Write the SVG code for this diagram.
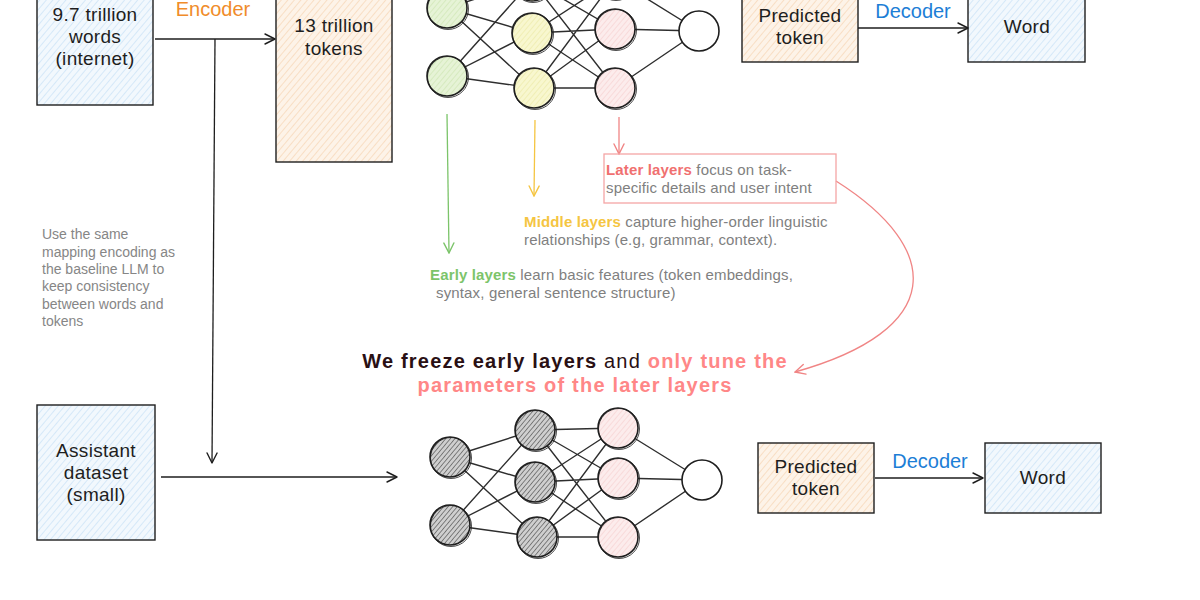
<svg xmlns="http://www.w3.org/2000/svg" width="1200" height="600" viewBox="0 0 1200 600">
<defs>
  <pattern id="hBlue" width="5" height="5" patternUnits="userSpaceOnUse" patternTransform="rotate(40)">
    <rect width="5" height="5" fill="#f2f8fd"/><line x1="0" y1="0" x2="0" y2="5" stroke="#b9d9f3" stroke-width="1"/>
  </pattern>
  <pattern id="hOrange" width="5" height="5" patternUnits="userSpaceOnUse" patternTransform="rotate(40)">
    <rect width="5" height="5" fill="#fdf3e8"/><line x1="0" y1="0" x2="0" y2="5" stroke="#f4c9a0" stroke-width="1"/>
  </pattern>
  <pattern id="hGreen" width="4" height="4" patternUnits="userSpaceOnUse" patternTransform="rotate(40)">
    <rect width="4" height="4" fill="#e6f3d6"/><line x1="0" y1="0" x2="0" y2="4" stroke="#c6e2a8" stroke-width="1"/>
  </pattern>
  <pattern id="hYellow" width="4" height="4" patternUnits="userSpaceOnUse" patternTransform="rotate(40)">
    <rect width="4" height="4" fill="#f8f7cf"/><line x1="0" y1="0" x2="0" y2="4" stroke="#e8e59c" stroke-width="1"/>
  </pattern>
  <pattern id="hPink" width="4" height="4" patternUnits="userSpaceOnUse" patternTransform="rotate(40)">
    <rect width="4" height="4" fill="#fcecec"/><line x1="0" y1="0" x2="0" y2="4" stroke="#f5c8c8" stroke-width="1"/>
  </pattern>
  <pattern id="hDark" width="3.5" height="3.5" patternUnits="userSpaceOnUse" patternTransform="rotate(40)">
    <rect width="3.5" height="3.5" fill="#cfcfcf"/><line x1="0" y1="0" x2="0" y2="3.5" stroke="#3a3a3a" stroke-width="1.1"/>
  </pattern>
  <marker id="aBlack" viewBox="0 0 12 12" refX="11" refY="6" markerWidth="12" markerHeight="12" markerUnits="userSpaceOnUse" orient="auto">
    <path d="M1,1 L11,6 L1,11" fill="none" stroke="#1e1e1e" stroke-width="1.4" stroke-linecap="round" stroke-linejoin="round"/>
  </marker>
  <marker id="aGreen" viewBox="0 0 12 12" refX="11" refY="6" markerWidth="12" markerHeight="12" markerUnits="userSpaceOnUse" orient="auto">
    <path d="M1,1 L11,6 L1,11" fill="none" stroke="#7cc46a" stroke-width="1.4" stroke-linecap="round"/>
  </marker>
  <marker id="aYellow" viewBox="0 0 12 12" refX="11" refY="6" markerWidth="12" markerHeight="12" markerUnits="userSpaceOnUse" orient="auto">
    <path d="M1,1 L11,6 L1,11" fill="none" stroke="#f5c542" stroke-width="1.4" stroke-linecap="round"/>
  </marker>
  <marker id="aRed" viewBox="0 0 12 12" refX="11" refY="6" markerWidth="12" markerHeight="12" markerUnits="userSpaceOnUse" orient="auto">
    <path d="M1,1 L11,6 L1,11" fill="none" stroke="#f08585" stroke-width="1.4" stroke-linecap="round"/>
  </marker>
</defs>
<style>
  .box { stroke:#1e1e1e; stroke-width:1.4; }
  .lbl { font-family:"Liberation Sans", Arial, sans-serif; font-size:19px; letter-spacing:0.3px; fill:#1e1e1e; text-anchor:middle; }
  .edge { stroke:#2e2e2e; stroke-width:1.4; fill:none; }
  .node { stroke:#1e1e1e; stroke-width:1.6; }
  .sk { fill:none; stroke:#1e1e1e; stroke-width:0.8; }
  .note { font-family:"Liberation Sans", Arial, sans-serif; font-size:14px; fill:#868686; }
  .ann { font-family:"Liberation Sans", Arial, sans-serif; font-size:15px; letter-spacing:0.15px; fill:#808080; }
  .b { font-weight:bold; }
  .title { font-family:"Liberation Sans", Arial, sans-serif; font-size:20px; letter-spacing:1.2px; font-weight:bold; text-anchor:middle; }
  .conn { stroke:#1e1e1e; stroke-width:1.3; fill:none; }
  .edgelbl { font-family:"Liberation Sans", Arial, sans-serif; font-size:20px; text-anchor:middle; }
</style>
<rect width="1200" height="600" fill="#ffffff"/>

<!-- top row nodes -->
<g id="words-box">
  <rect class="box" x="37" y="-30" width="116" height="135" fill="url(#hBlue)"/>
  <text class="lbl" x="95" y="21">9.7 trillion</text>
  <text class="lbl" x="95" y="43">words</text>
  <text class="lbl" x="95" y="65">(internet)</text>
</g>
<g id="tokens-box">
  <rect class="box" x="276" y="-90" width="116" height="252" fill="url(#hOrange)"/>
  <text class="lbl" x="334" y="32">13 trillion</text>
  <text class="lbl" x="334" y="55">tokens</text>
</g>
<g id="pred-top">
  <rect class="box" x="742" y="-8" width="116" height="70" fill="url(#hOrange)"/>
  <text class="lbl" x="800" y="22">Predicted</text>
  <text class="lbl" x="800" y="44">token</text>
</g>
<g id="word-top">
  <rect class="box" x="968" y="-8" width="117" height="70" fill="url(#hBlue)"/>
  <text class="lbl" x="1027" y="33">Word</text>
</g>

<!-- bottom row nodes -->
<g id="assistant-box">
  <rect class="box" x="37" y="405" width="118" height="135" fill="url(#hBlue)"/>
  <text class="lbl" x="96" y="457">Assistant</text>
  <text class="lbl" x="96" y="479">dataset</text>
  <text class="lbl" x="96" y="501">(small)</text>
</g>
<g id="pred-bottom">
  <rect class="box" x="758" y="443" width="116" height="70" fill="url(#hOrange)"/>
  <text class="lbl" x="816" y="473">Predicted</text>
  <text class="lbl" x="816" y="495">token</text>
</g>
<g id="word-bottom">
  <rect class="box" x="985" y="443" width="116" height="70" fill="url(#hBlue)"/>
  <text class="lbl" x="1043" y="484">Word</text>
</g>

<!-- top network -->
<g id="net-top" transform="translate(-3,-449)">
  <path class="edge" d="M450,457 L535,430 M450,457 L535,482 M450,457 L537,537 M450,525 L535,430 M450,525 L535,482 M450,525 L537,537
    M535,430 L618,428 M535,430 L618,478 M535,430 L618,537 M535,482 L618,428 M535,482 L618,478 M535,482 L618,537 M537,537 L618,428 M537,537 L618,478 M537,537 L618,537
    M618,428 L702,480 M618,478 L702,480 M618,537 L702,480"/>
  <g id="top-l1a"><circle class="node" cx="450" cy="457" r="20" fill="url(#hGreen)"/><circle class="sk" cx="451" cy="458" r="20.5"/></g>
  <g id="top-l1b"><circle class="node" cx="450" cy="525" r="20" fill="url(#hGreen)"/><circle class="sk" cx="451" cy="526" r="20.5"/></g>
  <g id="top-l2a"><circle class="node" cx="535" cy="430" r="20" fill="url(#hYellow)"/><circle class="sk" cx="536" cy="431" r="20.5"/></g>
  <g id="top-l2b"><circle class="node" cx="535" cy="482" r="20" fill="url(#hYellow)"/><circle class="sk" cx="536" cy="483" r="20.5"/></g>
  <g id="top-l2c"><circle class="node" cx="537" cy="537" r="20" fill="url(#hYellow)"/><circle class="sk" cx="538" cy="538" r="20.5"/></g>
  <g id="top-l3a"><circle class="node" cx="618" cy="428" r="20" fill="url(#hPink)"/><circle class="sk" cx="619" cy="429" r="20.5"/></g>
  <g id="top-l3b"><circle class="node" cx="618" cy="478" r="20" fill="url(#hPink)"/><circle class="sk" cx="619" cy="479" r="20.5"/></g>
  <g id="top-l3c"><circle class="node" cx="618" cy="537" r="20" fill="url(#hPink)"/><circle class="sk" cx="619" cy="538" r="20.5"/></g>
  <g id="top-out"><circle class="node" cx="702" cy="480" r="20" fill="#ffffff"/></g>
</g>

<!-- bottom network -->
<g id="net-bottom">
  <path class="edge" d="M450,457 L535,430 M450,457 L535,482 M450,457 L537,537 M450,525 L535,430 M450,525 L535,482 M450,525 L537,537
    M535,430 L618,428 M535,430 L618,478 M535,430 L618,537 M535,482 L618,428 M535,482 L618,478 M535,482 L618,537 M537,537 L618,428 M537,537 L618,478 M537,537 L618,537
    M618,428 L702,480 M618,478 L702,480 M618,537 L702,480"/>
  <g id="bot-l1a"><circle class="node" cx="450" cy="457" r="20" fill="url(#hDark)"/><circle class="sk" cx="451" cy="458" r="20.5"/></g>
  <g id="bot-l1b"><circle class="node" cx="450" cy="525" r="20" fill="url(#hDark)"/><circle class="sk" cx="451" cy="526" r="20.5"/></g>
  <g id="bot-l2a"><circle class="node" cx="535" cy="430" r="20" fill="url(#hDark)"/><circle class="sk" cx="536" cy="431" r="20.5"/></g>
  <g id="bot-l2b"><circle class="node" cx="535" cy="482" r="20" fill="url(#hDark)"/><circle class="sk" cx="536" cy="483" r="20.5"/></g>
  <g id="bot-l2c"><circle class="node" cx="537" cy="537" r="20" fill="url(#hDark)"/><circle class="sk" cx="538" cy="538" r="20.5"/></g>
  <g id="bot-l3a"><circle class="node" cx="618" cy="428" r="20" fill="url(#hPink)"/><circle class="sk" cx="619" cy="429" r="20.5"/></g>
  <g id="bot-l3b"><circle class="node" cx="618" cy="478" r="20" fill="url(#hPink)"/><circle class="sk" cx="619" cy="479" r="20.5"/></g>
  <g id="bot-l3c"><circle class="node" cx="618" cy="537" r="20" fill="url(#hPink)"/><circle class="sk" cx="619" cy="538" r="20.5"/></g>
  <g id="bot-out"><circle class="node" cx="702" cy="480" r="20" fill="#ffffff"/></g>
</g>

<!-- connectors -->
<g id="connectors">
  <path class="conn" d="M155,39 L275,39" marker-end="url(#aBlack)"/>
  <path class="conn" d="M215,39 L212,463" marker-end="url(#aBlack)"/>
  <path class="conn" d="M161,477 L397,477" marker-end="url(#aBlack)"/>
  <path class="conn" d="M858,28 L968,28" marker-end="url(#aBlack)"/>
  <path class="conn" d="M875,478 L983,478" marker-end="url(#aBlack)"/>
  <path d="M447,114 L449,253" fill="none" stroke="#7cc46a" stroke-width="1.3" marker-end="url(#aGreen)"/>
  <path d="M535,120 L534,196" fill="none" stroke="#f5c542" stroke-width="1.3" marker-end="url(#aYellow)"/>
  <path d="M619,117 L619,154" fill="none" stroke="#f08585" stroke-width="1.3" marker-end="url(#aRed)"/>
  <path d="M836,181 C945,250 945,330 795,372" fill="none" stroke="#f08585" stroke-width="1.3" marker-end="url(#aRed)"/>
</g>

<!-- edge labels -->
<text class="edgelbl" x="213" y="16" fill="#f08c2a">Encoder</text>
<text class="edgelbl" x="913" y="18" fill="#1c7ed6">Decoder</text>
<text class="edgelbl" x="930" y="468" fill="#1c7ed6">Decoder</text>

<g id="note">
  <text class="note" x="42" y="239">Use the same</text>
  <text class="note" x="42" y="257">mapping encoding as</text>
  <text class="note" x="42" y="274">the baseline LLM to</text>
  <text class="note" x="42" y="291">keep consistency</text>
  <text class="note" x="42" y="309">between words and</text>
  <text class="note" x="42" y="326">tokens</text>
</g>

<g id="later-box">
  <rect x="604" y="154" width="232" height="49" fill="none" stroke="#f5a5a5" stroke-width="1.3"/>
  <text class="ann" x="606" y="175"><tspan class="b" fill="#f07070">Later layers</tspan> focus on task-</text>
  <text class="ann" x="606" y="193">specific details and user intent</text>
</g>
<g id="middle-text">
  <text class="ann" x="524" y="227"><tspan class="b" fill="#f5c542">Middle layers</tspan> capture higher-order linguistic</text>
  <text class="ann" x="524" y="245">relationships (e.g, grammar, context).</text>
</g>
<g id="early-text">
  <text class="ann" x="430" y="280"><tspan class="b" fill="#7cc46a">Early layers</tspan> learn basic features (token embeddings,</text>
  <text class="ann" x="436" y="298">syntax, general sentence structure)</text>
</g>

<g id="title">
  <text class="title" x="575" y="368"><tspan fill="#2a1014">We freeze early layers</tspan><tspan fill="#2a1014" font-weight="normal"> and </tspan><tspan fill="#ff8787">only tune the</tspan></text>
  <text class="title" x="575" y="392" fill="#ff8787">parameters of the later layers</text>
</g>
</svg>
